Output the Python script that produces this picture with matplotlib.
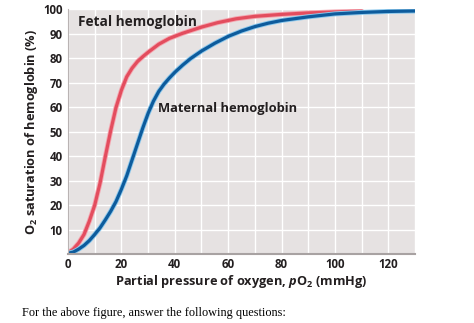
import matplotlib
matplotlib.use("Agg")
import matplotlib.pyplot as plt

# Oxygen dissociation curves (pO2 in mmHg, saturation in %)
fetal_po2 = [0, 2, 4, 6, 8, 10, 12, 14, 16, 18, 20, 22, 24, 26, 28, 30, 34, 38, 43,
             50, 56, 63, 70, 80, 90, 100, 110]
fetal_sat = [0.5, 2, 4.5, 8, 13.5, 20, 29, 40, 50.5, 60, 67, 72.5, 76, 78.7, 80.7, 82.5,
             85.8, 88.2, 90.3, 92.8, 94.6, 96.2, 97.2, 98, 98.6, 99, 99.3]

maternal_po2 = [0, 2, 4, 6, 8, 10, 12, 14, 16, 18, 20, 22, 24, 26, 28, 30, 32, 34, 36,
                38, 40, 43, 46, 50, 55, 60, 65, 70, 75, 80, 90, 100, 110, 120, 130]
maternal_sat = [0.3, 0.8, 2, 3.5, 5.5, 8, 10.7, 14, 17.5, 21.5, 26.5, 32, 38.5, 45, 51.5,
                57.5, 62.5, 66.5, 69.5, 72, 74.3, 77.3, 80, 83, 86.2, 89, 91.2, 93, 94.4,
                95.5, 97, 98.2, 98.8, 99.2, 99.4]

x_ticks = [0, 20, 40, 60, 80, 100, 120]
y_ticks = [10, 20, 30, 40, 50, 60, 70, 80, 90, 100]

plt.rcParams['font.family'] = ['Open Sans', 'DejaVu Sans']
plt.rcParams['mathtext.fontset'] = 'custom'
plt.rcParams['mathtext.rm'] = 'Open Sans'
plt.rcParams['mathtext.bf'] = 'Open Sans:bold'
plt.rcParams['mathtext.it'] = 'Open Sans:italic:bold'

ink = '#231f20'

fig = plt.figure(figsize=(4.74, 3.23), dpi=100)
ax = fig.add_axes([0.1435, 0.2136, 0.732, 0.757])
ax.set_facecolor('#e6e2e2')

ax.set_xlim(0, 130)
ax.set_ylim(0, 100)
ax.set_xticks(range(0, 131, 10))
ax.set_yticks(range(0, 101, 10))
ax.grid(True, color='white', linewidth=1.0)
ax.set_axisbelow(True)

# labels only on every other x gridline, none at y = 0
ax.set_xticklabels([str(v) if v in x_ticks else '' for v in range(0, 131, 10)])
ax.set_yticklabels([str(v) if v in y_ticks else '' for v in range(0, 101, 10)])
ax.tick_params(length=0, labelsize=8.3, labelcolor=ink, pad=4)
ax.tick_params(axis='x', pad=3)
for lab in ax.get_xticklabels() + ax.get_yticklabels():
    lab.set_fontweight('bold')

for side in ['top', 'right']:
    ax.spines[side].set_visible(False)
ax.spines['left'].set_color('#b9b3b3')
ax.spines['bottom'].set_color('#a8a2a2')
ax.spines['bottom'].set_linewidth(1.5)

# curves with a soft halo under each line
line_kw = dict(solid_capstyle='round', solid_joinstyle='round')
ax.plot(fetal_po2, fetal_sat, color='#f4a6b0', linewidth=3.6, **line_kw)
ax.plot(fetal_po2, fetal_sat, color='#e34d5e', linewidth=2.3, **line_kw)
ax.plot(maternal_po2, maternal_sat, color='#8cc8ec', linewidth=3.6, **line_kw)
ax.plot(maternal_po2, maternal_sat, color='#0d5b9c', linewidth=2.3, **line_kw)

ax.text(3.6, 95, 'Fetal hemoglobin', fontsize=9.8, fontweight='bold', color=ink,
        ha='left', va='center')
ax.text(33.6, 59.5, 'Maternal hemoglobin', fontsize=9.3, fontweight='bold', color=ink,
        ha='left', va='center')

ax.set_xlabel(r'Partial pressure of oxygen, $\mathit{p}\mathbf{O}_\mathbf{2}$ (mmHg)',
              fontsize=9.2, fontweight='bold', color=ink, labelpad=1.5)
ax.set_ylabel(r'$\mathbf{O}_\mathbf{2}$ saturation of hemoglobin (%)',
              fontsize=9.2, fontweight='bold', color=ink, labelpad=2)

fig.text(0.046, 0.012, 'For the above figure, answer the following questions:',
         fontsize=8.8, family='Liberation Serif', color='black', ha='left', va='bottom')

fig.savefig('out.png', dpi=100)
